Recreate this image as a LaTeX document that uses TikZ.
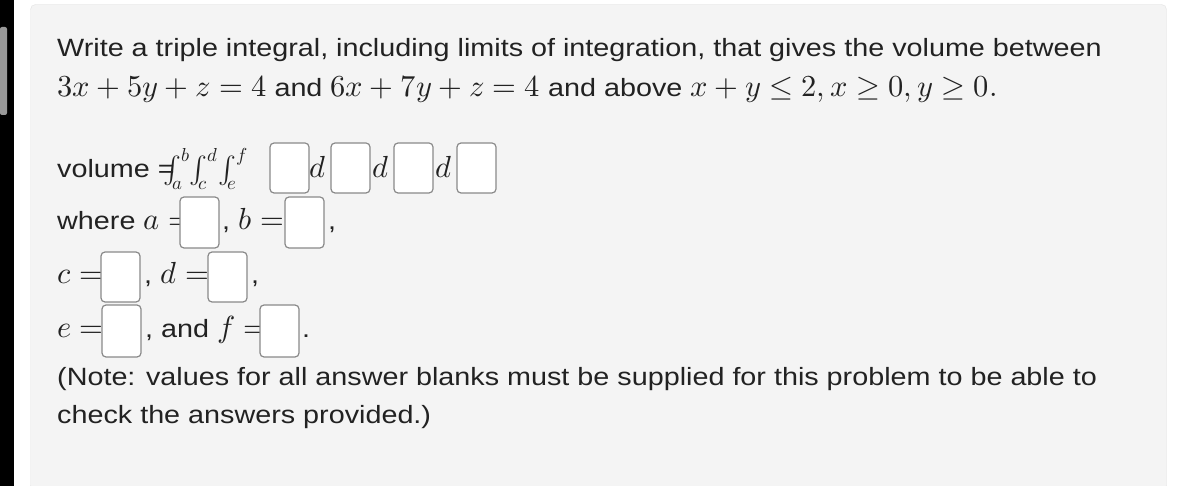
\documentclass[tikz,border=0pt]{standalone}
\usepackage{fontspec}
\setmainfont[FakeStretch=1.15]{Liberation Sans}
\usepackage{unicode-math}
\setmathfont[Scale=1.22]{Latin Modern Math}
\definecolor{panel}{HTML}{F4F4F4}
\definecolor{pborder}{HTML}{E2E2E2}
\definecolor{txt}{HTML}{222222}
\definecolor{boxb}{HTML}{8A8A8A}
\tikzset{x=1pt,y=-1pt,
 t/.style={anchor=base west,inner sep=0pt,text=txt,font=\fontsize{25}{28}\selectfont},
 ab/.style={draw=boxb,line width=1.2pt,fill=white,rounded corners=4pt}}
\newcommand{\ansbox}[3]{\draw[ab] (#1,#2) rectangle ++(39,#3);}
\begin{document}
\begin{tikzpicture}
\useasboundingbox (0,0) rectangle (1184,486);
\fill[white] (0,0) rectangle (1184,486);
\fill[black] (0,0) rectangle (14,486);
\fill[black!40,rounded corners=2pt] (0,27) rectangle (7,115);
\draw[pborder,fill=panel,rounded corners=5pt] (30.5,4.5) -- (1166.5,4.5) -- (1166.5,490) -- (30.5,490) -- cycle;
\node[t] (l1) at (57,57) {Write a triple integral, including limits of integration, that gives the volume between};
\node[t] (l2) at (57,97) {$3x+5y+z=4$ and $6x+7y+z=4$ and above $x+y\le2, x\ge0, y\ge0.$};
\node[t] (v) at (57,178) {volume =};
\node[t,font=\fontsize{22}{30}\selectfont] (ig) at (163,178) {$\int_a^b\!\int_c^d\!\int_e^f$};
\ansbox{270}{143}{50}
\node[t] (d1) at (309,178) {$d$};
\ansbox{331}{143}{50}
\node[t] (d2) at (372,178) {$d$};
\ansbox{394}{143}{50}
\node[t] (d3) at (435,178) {$d$};
\ansbox{457}{143}{50}
\node[t] (w) at (57,230) {where $a=$};
\ansbox{180}{197}{51}
\node[t] (wb) at (222,230) {, $b=$};
\ansbox{285}{197}{51}
\node[t] at (328,230) {,};
\node[t] (c) at (57,284) {$c=$};
\ansbox{101}{252}{50}
\node[t] (dd) at (144,284) {, $d=$};
\ansbox{208}{252}{50}
\node[t] at (251,284) {,};
\node[t] (e) at (57,338) {$e=$};
\ansbox{102}{305}{52}
\node[t] (ef) at (145,338) {, and $f=$};
\ansbox{260}{305}{52}
\node[t] at (302,338) {.};
\node[t] (n1) at (57,385) {(Note: values for all answer blanks must be supplied for this problem to be able to};
\node[t] (n2) at (57,423) {check the answers provided.)};
\end{tikzpicture}
\end{document}
